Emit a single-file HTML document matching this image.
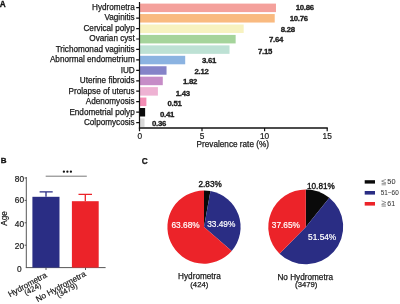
<!DOCTYPE html>
<html><head><meta charset="utf-8">
<style>
html,body{margin:0;padding:0;background:#fff;width:400px;height:304px;overflow:hidden}
svg{display:block;will-change:transform}
text{font-family:"Liberation Sans",sans-serif}
.cat{font-size:8.17px;fill:#1a1a1a;text-anchor:end;stroke:#1a1a1a;stroke-width:0.25}
.val{font-size:7.8px;font-weight:bold;fill:#1a1a1a;stroke:#1a1a1a;stroke-width:0.3;letter-spacing:-0.3px}
.tk{font-size:8.3px;fill:#1a1a1a;text-anchor:middle;stroke:#1a1a1a;stroke-width:0.2}
.pl{font-size:8.2px;fill:#111;stroke:#111;stroke-width:0.35}
.pw{font-size:8.3px;fill:#fff;stroke:#fff;stroke-width:0.2}
</style></head>
<body>
<svg width="400" height="304" viewBox="0 0 400 304">
<!-- Panel A -->
<text x="-0.3" y="6.9" style="font-size:8.2px;font-weight:bold;fill:#111;stroke:#111;stroke-width:0.3">A</text>
<g>
<rect x="140" y="3.60" width="135.97" height="8.5" fill="#F4A19C"/>
<rect x="140" y="14.04" width="134.72" height="8.5" fill="#F9BA80"/>
<rect x="140" y="24.48" width="103.67" height="8.5" fill="#F7F2C0"/>
<rect x="140" y="34.92" width="95.65" height="8.5" fill="#A5D49B"/>
<rect x="140" y="45.36" width="89.52" height="8.5" fill="#BDE1D4"/>
<rect x="140" y="55.80" width="45.20" height="8.5" fill="#8BB3E1"/>
<rect x="140" y="66.24" width="26.54" height="8.5" fill="#8583C8"/>
<rect x="140" y="76.68" width="22.79" height="8.5" fill="#C68CC7"/>
<rect x="140" y="87.12" width="17.90" height="8.5" fill="#EEB2D3"/>
<rect x="140" y="97.56" width="6.39" height="8.5" fill="#F38CB4"/>
<rect x="140" y="108.00" width="5.13" height="8.5" fill="#0a0a0a"/>
<rect x="140" y="118.44" width="4.51" height="8.5" fill="#D9D9D9"/>
</g>
<g class="cat">
<text x="134.7" y="9.80">Hydrometra</text>
<text x="134.7" y="20.30">Vaginitis</text>
<text x="134.7" y="30.80">Cervical polyp</text>
<text x="134.7" y="41.30">Ovarian cyst</text>
<text x="134.7" y="51.80">Trichomonad vaginitis</text>
<text x="134.7" y="62.30">Abnormal endometrium</text>
<text x="134.7" y="72.80">IUD</text>
<text x="134.7" y="83.30">Uterine fibroids</text>
<text x="134.7" y="93.80">Prolapse of uterus</text>
<text x="134.7" y="104.30">Adenomyosis</text>
<text x="134.7" y="114.80">Endometrial polyp</text>
<text x="134.7" y="125.30">Colpomycosis</text>
</g>
<g stroke="#111" stroke-width="1.2" fill="none">
<line x1="139.5" y1="2" x2="139.5" y2="128.6"/>
<line x1="138.9" y1="128" x2="327.8" y2="128" stroke-width="1.4"/>
<path d="M136.2 7.70H139.5M136.2 18.14H139.5M136.2 28.58H139.5M136.2 39.02H139.5M136.2 49.46H139.5M136.2 59.90H139.5M136.2 70.34H139.5M136.2 80.78H139.5M136.2 91.22H139.5M136.2 101.66H139.5M136.2 112.10H139.5M136.2 122.54H139.5"/>
<path d="M139.5 128V131.2M202 128V131.2M264.6 128V131.2M327.2 128V131.2"/>
</g>
<g class="tk">
<text x="139.7" y="139">0</text>
<text x="202" y="138.5">5</text>
<text x="264.6" y="139.2">10</text>
<text x="327.2" y="139.2">15</text>
</g>
<text x="196.6" y="147.2" style="font-size:8.2px;fill:#1a1a1a;stroke:#1a1a1a;stroke-width:0.25">Prevalence rate (%)</text>
<g class="val">
<text x="295.8" y="10.2">10.86</text>
<text x="289.8" y="21.4">10.76</text>
<text x="280.8" y="32.2">8.28</text>
<text x="269" y="42.2">7.64</text>
<text x="258" y="53.6">7.15</text>
<text x="202" y="63.4">3.61</text>
<text x="194.5" y="73.9">2.12</text>
<text x="183" y="84.4">1.82</text>
<text x="175.8" y="96.4">1.43</text>
<text x="167.5" y="105.7">0.51</text>
<text x="160" y="116.9">0.41</text>
<text x="152" y="125.9">0.36</text>
</g>

<!-- Panel B -->
<text x="0.8" y="163.4" style="font-size:8px;font-weight:bold;fill:#111;stroke:#111;stroke-width:0.3">B</text>
<g stroke="#444" stroke-width="0.9" fill="none">
<line x1="26.3" y1="177" x2="26.3" y2="267.6"/>
<line x1="25.8" y1="267.6" x2="105.6" y2="267.6"/>
<path d="M24.6 178H26.3M24.6 200.4H26.3M24.6 222.8H26.3M24.6 245.2H26.3"/>
<path d="M46 267.6V270M85.5 267.6V270"/>
<line x1="45.7" y1="176.2" x2="86.8" y2="176.2" stroke="#555" stroke-width="0.8"/>
</g>
<g class="tk" style="text-anchor:end">
<text x="24" y="182">80</text>
<text x="24" y="203.2">60</text>
<text x="24" y="227">40</text>
<text x="24" y="249">20</text>
<text x="21.6" y="271.6">0</text>
</g>
<text transform="translate(7.4,225.7) rotate(-90)" style="font-size:8.2px;fill:#1a1a1a;stroke:#1a1a1a;stroke-width:0.2">Age</text>
<rect x="32.4" y="196.8" width="27.1" height="70.8" fill="#2A2D84"/>
<rect x="71.9" y="201.2" width="26.8" height="66.4" fill="#EC2329"/>
<g stroke-width="1.3" fill="none">
<path d="M46 196.8V191.8M39.6 191.8H52.7" stroke="#2A2D84"/>
<path d="M85.3 201.2V194.3M78.5 194.3H92" stroke="#EC2329"/>
</g>
<g fill="#111"><circle cx="63.9" cy="171.7" r="1.15"/><circle cx="67.4" cy="171.7" r="1.15"/><circle cx="70.9" cy="171.7" r="1.15"/></g>
<g style="font-size:8.2px;fill:#1a1a1a;text-anchor:middle;stroke:#1a1a1a;stroke-width:0.2">
<g transform="translate(47.6,276.8) rotate(-28.5)">
<text x="-21.5" y="0">Hydrometra</text>
<text x="-19" y="6" style="font-size:7.7px">(424)</text>
</g>
<g transform="translate(87.1,275.3) rotate(-28.5)">
<text x="-28.5" y="0">No Hydrometra</text>
<text x="-24.7" y="6" style="font-size:7.7px">(3479)</text>
</g>
</g>

<!-- Panel C -->
<text x="141.8" y="163.8" style="font-size:8.3px;font-weight:bold;fill:#111;stroke:#111;stroke-width:0.25">C</text>
<g id="pie1"><path d="M204.0 227.1L204.00 190.50A36.6 36.6 0 0 1 210.47 191.08Z" fill="#0a0a0a"/><path d="M204.0 227.1L210.47 191.08A36.6 36.6 0 0 1 231.73 250.99Z" fill="#2A2D84"/><path d="M204.0 227.1L231.73 250.99A36.6 36.6 0 1 1 204.00 190.50Z" fill="#EC2329"/></g>
<g id="pie2"><path d="M305.8 226.9L305.80 189.40A37.5 37.5 0 0 1 329.36 197.72Z" fill="#0a0a0a"/><path d="M305.8 226.9L329.36 197.72A37.5 37.5 0 1 1 279.53 253.67Z" fill="#2A2D84"/><path d="M305.8 226.9L279.53 253.67A37.5 37.5 0 0 1 305.80 189.40Z" fill="#EC2329"/></g>
<text x="198.5" y="186.8" class="pl">2.83%</text>
<text x="307" y="188.7" class="pl">10.81%</text>
<text x="171.5" y="227.8" class="pw">63.68%</text>
<text x="207.2" y="227" class="pw">33.49%</text>
<text x="271.8" y="227.8" class="pw">37.65%</text>
<text x="308.1" y="239.8" class="pw">51.54%</text>
<g style="font-size:8.2px;fill:#1a1a1a;text-anchor:middle;stroke:#1a1a1a;stroke-width:0.25">
<text x="199.5" y="279.4">Hydrometra</text>
<text x="199.3" y="286.5" style="font-size:7.7px">(424)</text>
<text x="305.2" y="280.2">No Hydrometra</text>
<text x="306.2" y="287.3" style="font-size:7.7px">(3479)</text>
</g>
<rect x="364.7" y="180.2" width="10.3" height="3.4" fill="#0a0a0a"/>
<rect x="364.7" y="191" width="10.3" height="3.6" fill="#2A2D84"/>
<rect x="364.7" y="202" width="10.3" height="3.6" fill="#EC2329"/>
<g style="font-size:6.7px;fill:#333;stroke:#333;stroke-width:0.05">
<text x="387.3" y="184.3" textLength="8.2" lengthAdjust="spacingAndGlyphs">50</text>
<text x="380.8" y="194.8" textLength="17.9" lengthAdjust="spacingAndGlyphs">51−60</text>
<text x="387.3" y="206.2" textLength="7.8" lengthAdjust="spacingAndGlyphs">61</text>
</g>
<g fill="none" stroke="#444" stroke-width="0.55">
<path d="M385.9 179.4L381.6 181.1L385.9 182.8M381.6 183.4H385.9M381.6 184.8H385.9"/>
<path d="M381.6 200.8L385.9 202.5L381.6 204.2M381.6 204.8H385.9M381.6 206.2H385.9"/>
</g>
</svg>
</body></html>
